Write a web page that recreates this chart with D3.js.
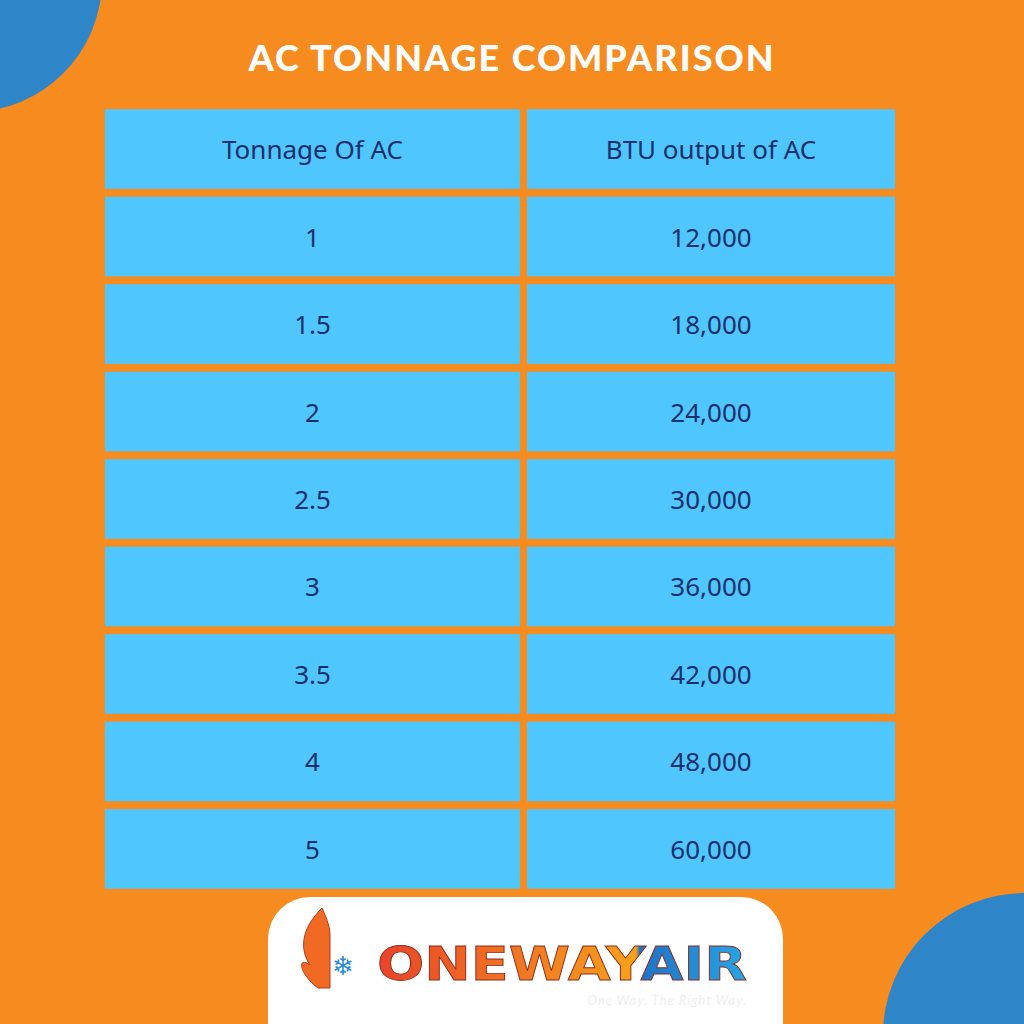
<!DOCTYPE html>
<html><head><meta charset="utf-8">
<script src="https://cdn.jsdelivr.net/npm/d3@7"></script>
<style>body{margin:0;background:#f68b1f}</style>
</head><body>
<script>
// table data
const headers = ["Tonnage Of AC", "BTU output of AC"];
const tonnage = ["1", "1.5", "2", "2.5", "3", "3.5", "4", "5"];
const btu = ["12,000", "18,000", "24,000", "30,000", "36,000", "42,000", "48,000", "60,000"];

const svg = d3.select("body").append("svg").attr("width", 1024).attr("height", 1024);
svg.append("rect").attr("width", 1024).attr("height", 1024).attr("fill", "#f68b1f");

// corner blobs
svg.append("circle").attr("cx", -30).attr("cy", -20).attr("r", 132).attr("fill", "#2e86c8");
svg.append("circle").attr("cx", 1025).attr("cy", 1035).attr("r", 142).attr("fill", "#2e86c8");

svg.append("text").attr("x", 512).attr("y", 71).attr("text-anchor", "middle")
  .attr("fill", "#fff").attr("font-family", "Lato, sans-serif").attr("font-weight", 900)
  .attr("font-size", 36).attr("letter-spacing", 2).text("AC TONNAGE COMPARISON");

// layout via scales
const rows = [headers].concat(tonnage.map((t, i) => [t, btu[i]]));
const y = d3.scaleBand().domain(d3.range(rows.length)).range([104, 894]).paddingInner(0.09).paddingOuter(0.06);
const colX = [105, 527], colW = [415, 368];

const g = svg.selectAll("g.row").data(rows).join("g").attr("class", "row")
  .attr("transform", (d, i) => `translate(0,${y(i)})`);
[0, 1].forEach(c => {
  g.append("rect").attr("x", colX[c]).attr("width", colW[c]).attr("height", y.bandwidth())
    .attr("fill", "#4fc6fd");
  g.append("text").attr("x", colX[c] + colW[c] / 2).attr("y", y.bandwidth() / 2 + 10)
    .attr("text-anchor", "middle").attr("fill", "#1b2f6b")
    .attr("font-family", "'Noto Sans', sans-serif").attr("font-size", 26)
    .text(d => d[c]);
});

// logo card
svg.append("rect").attr("x", 268).attr("y", 897).attr("width", 515).attr("height", 170)
  .attr("rx", 42).attr("fill", "#fff");
const defs = svg.append("defs");
const grad = defs.append("linearGradient").attr("id", "lg");
grad.append("stop").attr("offset", "0%").attr("stop-color", "#e8442a");
grad.append("stop").attr("offset", "70%").attr("stop-color", "#f7a11c");
grad.append("stop").attr("offset", "71%").attr("stop-color", "#1f72c4");
grad.append("stop").attr("offset", "100%").attr("stop-color", "#27a6e6");
// flame + snowflake
svg.append("path").attr("d", "M322,908 C300,930 300,950 310,965 C296,955 300,975 318,988 L330,988 L330,935 C330,925 325,915 322,908Z")
  .attr("fill", "#f06a23").attr("stroke", "#b33a1e");
svg.append("text").attr("x", 343).attr("y", 975).attr("text-anchor", "middle").attr("font-size", 26)
  .attr("fill", "#2a8ad6").text("❄");
svg.append("text").attr("x", 377).attr("y", 980).attr("fill", "url(#lg)")
  .attr("stroke", "#8a2a1a").attr("stroke-width", 0.8)
  .attr("font-family", "'DejaVu Sans', sans-serif").attr("font-weight", "bold")
  .attr("font-size", 46).attr("textLength", 370).attr("lengthAdjust", "spacingAndGlyphs")
  .text("ONEWAYAIR");
svg.append("text").attr("x", 747).attr("y", 1005).attr("text-anchor", "end").attr("fill", "#eee")
  .attr("font-family", "Lato, sans-serif").attr("font-style", "italic").attr("font-size", 13)
  .attr("letter-spacing", 1).text("One Way. The Right Way.");
</script>
</body></html>
